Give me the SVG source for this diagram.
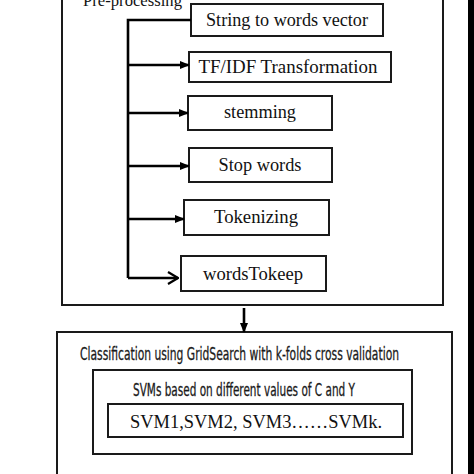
<svg xmlns="http://www.w3.org/2000/svg" width="474" height="474" viewBox="0 0 474 474">
<style>
.box{fill:#fff;stroke:#1a1a1a;stroke-width:2}
.frame{fill:none;stroke:#1a1a1a;stroke-width:2}
.t{font-family:"Liberation Serif","Times New Roman",serif;font-size:18px;fill:#111;text-anchor:middle}
.c{font-family:"Liberation Sans Narrow","DejaVu Sans Condensed","Roboto Condensed",sans-serif;fill:#1a1a1a;stroke:#1a1a1a;stroke-width:0.3}
.ln{fill:none;stroke:#000;stroke-width:2.6}
</style>
<defs>
<marker id="tri" markerWidth="10" markerHeight="8" refX="9" refY="4" orient="auto" markerUnits="userSpaceOnUse">
<path d="M0,0 L10,4 L0,8 Z" fill="#000"/>
</marker>
<marker id="vee" markerWidth="12" markerHeight="14" refX="11" refY="7" orient="auto" markerUnits="userSpaceOnUse">
<path d="M1,1 L11,7 L1,13" fill="none" stroke="#000" stroke-width="2.2"/>
</marker>
</defs>
<rect width="474" height="474" fill="#fff"/>
<g id="preprocessing">
<rect class="frame" x="62" y="-10" width="381" height="315"/>
<text x="83" y="6" style="font-family:'Liberation Serif',serif;font-size:17px;fill:#111" textLength="99" lengthAdjust="spacingAndGlyphs">Pre-processing</text>
</g>
<g id="n1"><rect class="box" x="191" y="4" width="192" height="32"/><text class="t" x="287" y="26" textLength="162" lengthAdjust="spacingAndGlyphs">String to words vector</text></g>
<g id="n2"><rect class="box" x="189" y="52" width="202" height="30"/><text class="t" x="288" y="73" textLength="179" lengthAdjust="spacingAndGlyphs">TF/IDF Transformation</text></g>
<g id="n3"><rect class="box" x="188" y="96" width="144" height="34"/><text class="t" x="260" y="118" textLength="72" lengthAdjust="spacingAndGlyphs">stemming</text></g>
<g id="n4"><rect class="box" x="189" y="148" width="143" height="34"/><text class="t" x="260" y="171" textLength="83" lengthAdjust="spacingAndGlyphs">Stop words</text></g>
<g id="n5"><rect class="box" x="184" y="200" width="145" height="35"/><text class="t" x="256" y="223" textLength="84" lengthAdjust="spacingAndGlyphs">Tokenizing</text></g>
<g id="n6"><rect class="box" x="181" y="256" width="145" height="35"/><text class="t" x="253" y="280" textLength="100" lengthAdjust="spacingAndGlyphs">wordsTokeep</text></g>
<g id="classification">
<rect class="frame" x="57" y="332" width="395" height="160"/>
<text class="c" x="80" y="360" font-size="18" textLength="319" lengthAdjust="spacingAndGlyphs">Classification using GridSearch with k-folds cross validation</text>
</g>
<g id="svms">
<rect class="box" x="93" y="370" width="319" height="84"/>
<text class="c" x="133" y="396" font-size="18" textLength="222" lengthAdjust="spacingAndGlyphs">SVMs based on different values of C and Y</text>
</g>
<g id="svmk">
<rect class="box" x="108" y="404" width="295" height="33"/>
<text x="130" y="428" style="font-family:'Liberation Serif',serif;font-size:19px;fill:#111" textLength="252" lengthAdjust="spacingAndGlyphs">SVM1,SVM2, SVM3……SVMk.</text>
</g>
<g id="connectors">
<path class="ln" d="M191,20 H128 V278"/>
<path class="ln" d="M128,65 H189" marker-end="url(#tri)"/>
<path class="ln" d="M128,113 H188" marker-end="url(#tri)"/>
<path class="ln" d="M128,166 H189" marker-end="url(#tri)"/>
<path class="ln" d="M128,219 H184" marker-end="url(#tri)"/>
<path class="ln" d="M128,278 H178" marker-end="url(#vee)"/>
<path class="ln" d="M244,308 V332" marker-end="url(#tri)"/>
</g>
<rect x="468" y="0" width="6" height="474" fill="#000"/>
</svg>
